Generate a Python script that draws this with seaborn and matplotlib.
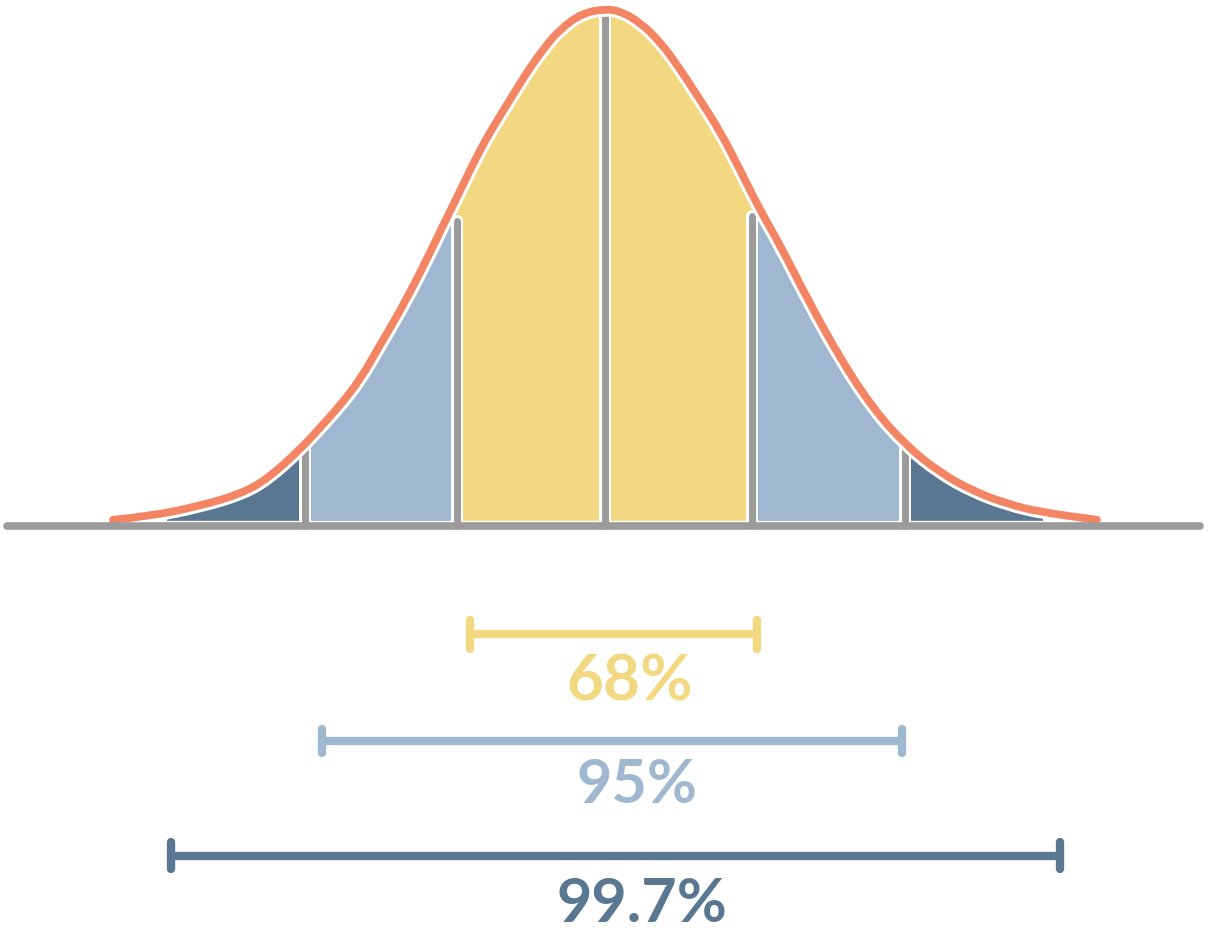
import matplotlib.pyplot as plt
import matplotlib.patheffects as pe
from matplotlib.patches import Rectangle, PathPatch
from matplotlib.path import Path
import seaborn as sns

sns.set_style('white')
plt.rcParams['font.family'] = ['Lato', 'DejaVu Sans']

# bell curve: x in sigma units, height relative to the peak
curve_x = [-3.28, -3.03, -2.70, -2.43, -2.25, -2.03, -1.90, -1.77, -1.63, -1.50,
           -1.37, -1.23, -1.10, -0.97, -0.85, -0.75, -0.63, -0.52, -0.41, -0.30,
           -0.15, 0.00, 0.10, 0.23, 0.37, 0.50, 0.63, 0.77, 0.90, 1.03,
           1.17, 1.35, 1.57, 1.79, 2.01, 2.23, 2.45, 2.68, 2.90, 3.28]
curve_h = [0.012, 0.019, 0.039, 0.062, 0.091, 0.149, 0.190, 0.232, 0.284, 0.350,
           0.414, 0.491, 0.569, 0.646, 0.718, 0.770, 0.826, 0.878, 0.923, 0.961,
           0.992, 1.000, 0.996, 0.975, 0.936, 0.884, 0.826, 0.762, 0.689, 0.613,
           0.542, 0.439, 0.323, 0.226, 0.155, 0.104, 0.068, 0.043, 0.027, 0.012]

# grey sigma marks and how high each one reaches
sigma_x = [-2.0, -0.987, 0.0, 0.98, 2.0]
sigma_top = [0.149, 0.590, 0.988, 0.600, 0.149]

# shaded bands under the curve
band_left = [-2.92, -2.0, -0.987, 0.0, 0.98, 2.0]
band_right = [-2.0, -0.987, 0.0, 0.98, 2.0, 2.92]
band_kind = ['dark', 'light', 'yellow', 'yellow', 'light', 'dark']

# range bars underneath
range_labels = ['68%', '95%', '99.7%']
range_start = [-0.90, -1.887, -2.893]
range_end = [1.013, 1.98, 3.033]
range_kind = ['yellow', 'light', 'dark']

pal = {'yellow': '#F2D880', 'light': '#9FB8CF', 'dark': '#5A7791'}
orange = '#F38564'
grey = '#9B9B9B'

fig = plt.figure(figsize=(12.11, 9.37), dpi=100)
ax = fig.add_axes([0, 0, 1, 1])

# smooth the hand-drawn curve with quadratic segments through the read points
pts = list(zip(curve_x, curve_h))
verts = [pts[0]]
codes = [Path.MOVETO]
for i in range(1, len(pts) - 1):
    mid = ((pts[i][0] + pts[i + 1][0]) / 2, (pts[i][1] + pts[i + 1][1]) / 2)
    verts += [pts[i], mid]
    codes += [Path.CURVE3, Path.CURVE3]
verts.append(pts[-1])
codes.append(Path.LINETO)
curve_path = Path(verts, codes)
area_path = Path(verts + [(curve_x[-1], 0.01), (curve_x[0], 0.01), (curve_x[0], 0.01)],
                 codes + [Path.LINETO, Path.LINETO, Path.CLOSEPOLY])

for x0, x1, k in zip(band_left, band_right, band_kind):
    patch = PathPatch(area_path, facecolor=pal[k], lw=0, zorder=1)
    ax.add_patch(patch)
    patch.set_clip_path(Rectangle((x0, -0.1), x1 - x0, 1.3, transform=ax.transData))

white = [pe.withStroke(linewidth=8.6, foreground='white')]
for x, top in zip(sigma_x, sigma_top):
    ax.plot([x, x], [0, top], color=grey, lw=5, solid_capstyle='round',
            path_effects=white, zorder=2)

ax.add_patch(PathPatch(curve_path, fill=False, edgecolor=orange, lw=5.6,
                       capstyle='round', joinstyle='round', zorder=3,
                       path_effects=[pe.withStroke(linewidth=10, foreground='white')]))

# axis line
ax.plot([-3.987, 3.967], [0, 0], color=grey, lw=5.5, solid_capstyle='round', zorder=4)

bar_y = [-0.209, -0.416, -0.638]
cap = [0.028, 0.024, 0.026]
text_x = [0.167, 0.213, 0.247]
text_y = [-0.335, -0.534, -0.764]
sizes = [46, 44, 44]
for i, lab in enumerate(range_labels):
    c = pal[range_kind[i]]
    y = bar_y[i]
    ax.plot([range_start[i], range_end[i]], [y, y], color=c, lw=6, solid_capstyle='round')
    for xe in (range_start[i], range_end[i]):
        ax.plot([xe, xe], [y - cap[i], y + cap[i]], color=c, lw=6, solid_capstyle='round')
    ax.text(text_x[i], text_y[i], lab, ha='center', va='baseline', color=c,
            fontsize=sizes[i], fontweight='bold')

ax.set_xlim(-4.0333, 4.04)
ax.set_ylim(-0.793, 1.0193)
ax.axis('off')

plt.savefig('out.png', dpi=100)
